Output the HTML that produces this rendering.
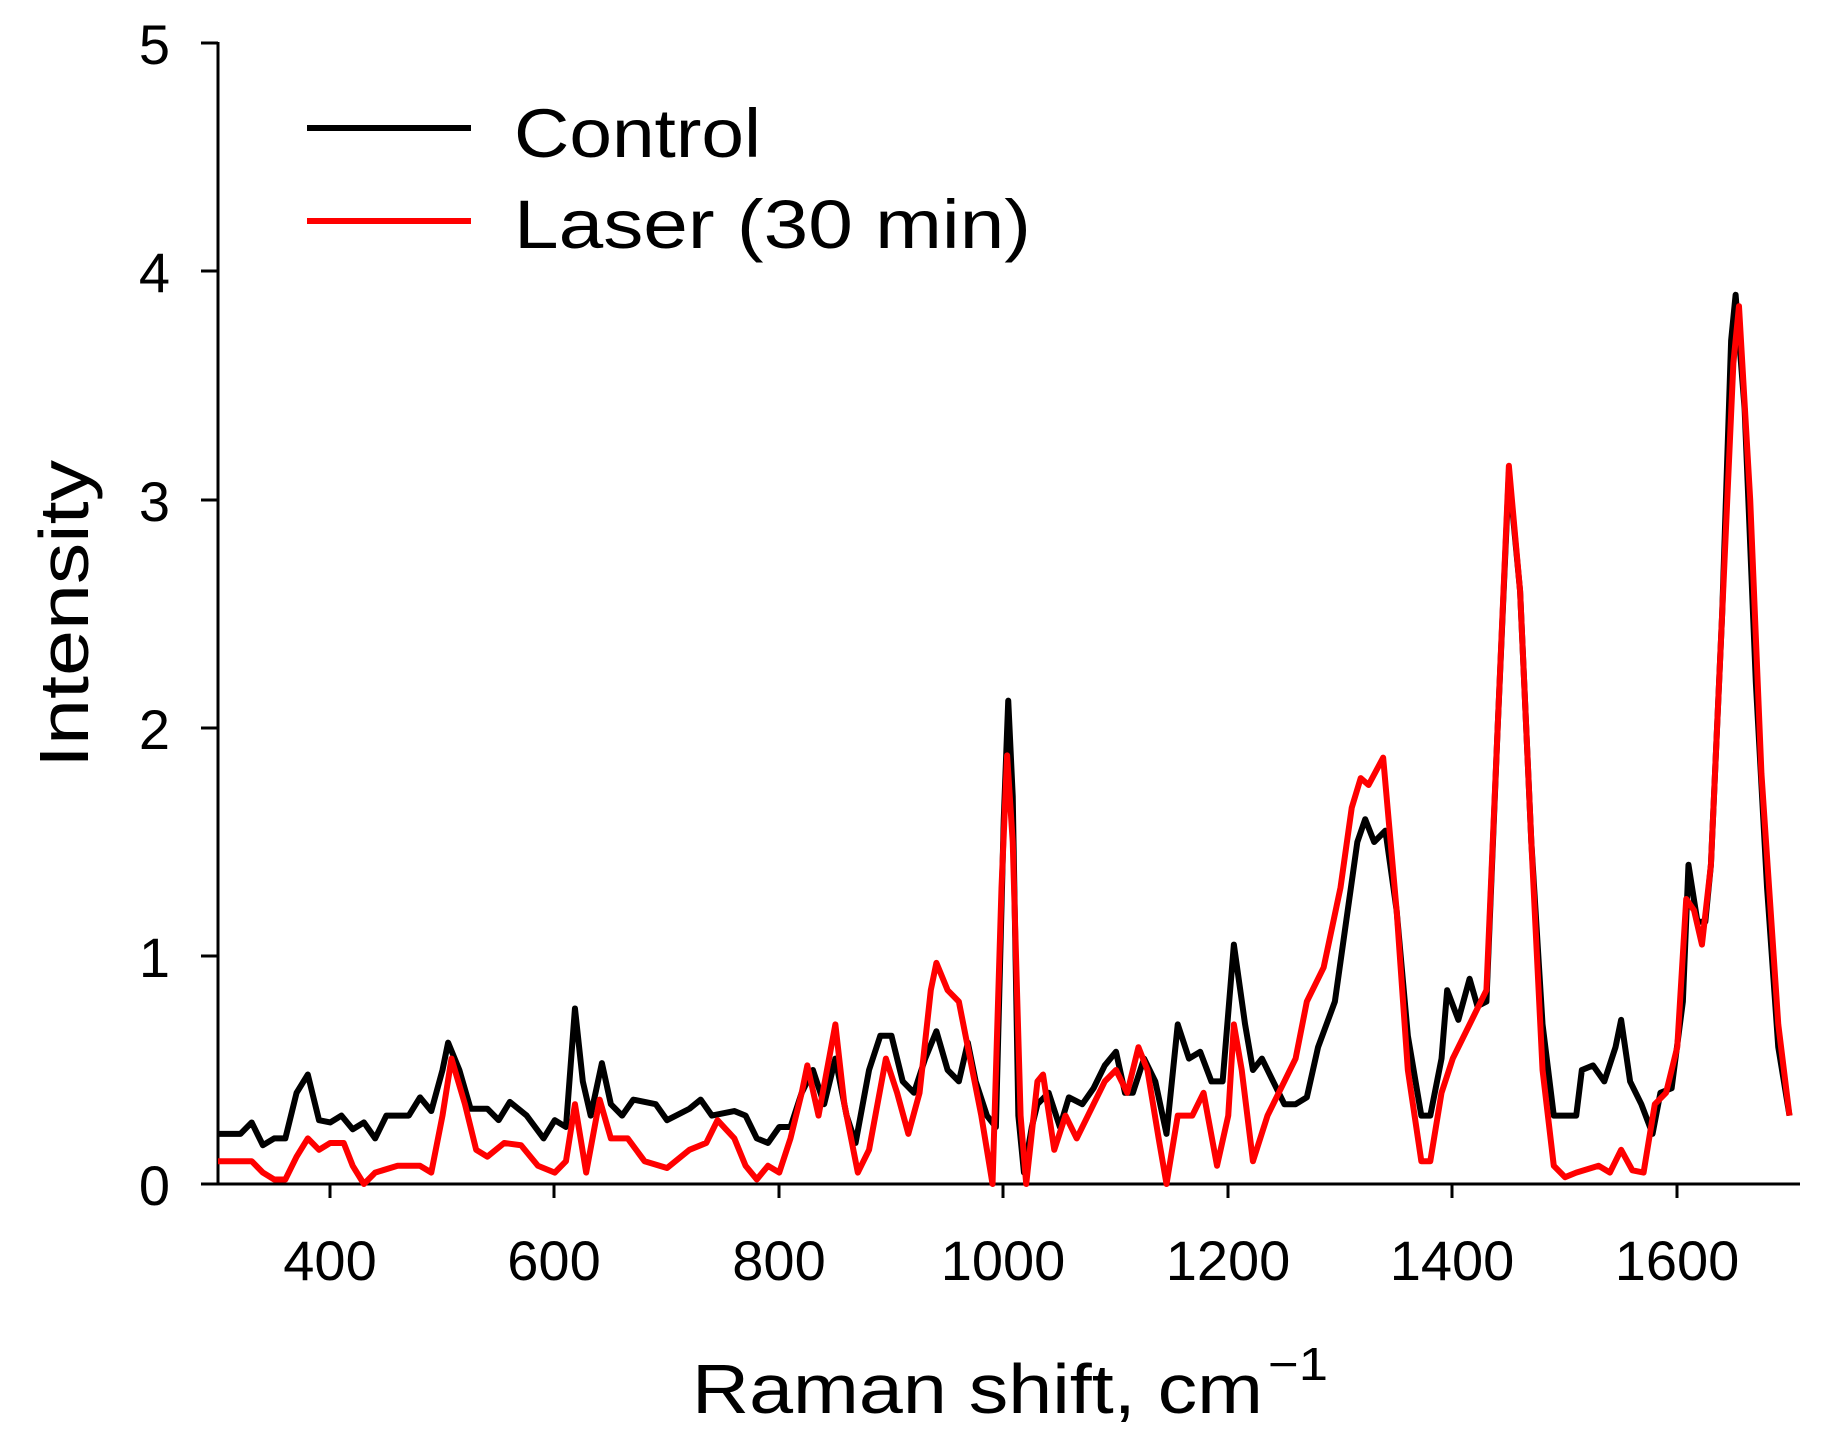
<!DOCTYPE html>
<html><head><meta charset="utf-8"><style>body{margin:0;background:#fff}svg{display:block}</style></head>
<body>
<svg width="1822" height="1455" viewBox="0 0 1822 1455" xmlns="http://www.w3.org/2000/svg" font-family="'Liberation Sans', 'DejaVu Sans', sans-serif">
<rect width="1822" height="1455" fill="#fff"/>
<g stroke="#000" stroke-width="3" fill="none">
<line x1="218" y1="42" x2="218" y2="1185"/>
<line x1="217" y1="1184" x2="1800" y2="1184"/>
<line x1="201" y1="43" x2="218" y2="43"/>
<line x1="201" y1="271" x2="218" y2="271"/>
<line x1="201" y1="500" x2="218" y2="500"/>
<line x1="201" y1="728" x2="218" y2="728"/>
<line x1="201" y1="956" x2="218" y2="956"/>
<line x1="201" y1="1184" x2="218" y2="1184"/>
<line x1="330" y1="1184" x2="330" y2="1198"/>
<line x1="554" y1="1184" x2="554" y2="1198"/>
<line x1="779" y1="1184" x2="779" y2="1198"/>
<line x1="1003" y1="1184" x2="1003" y2="1198"/>
<line x1="1228" y1="1184" x2="1228" y2="1198"/>
<line x1="1452" y1="1184" x2="1452" y2="1198"/>
<line x1="1677" y1="1184" x2="1677" y2="1198"/>
</g>
<g font-size="56" text-anchor="end" fill="#000">
<text x="170" y="64">5</text>
<text x="170" y="292">4</text>
<text x="170" y="521">3</text>
<text x="170" y="749">2</text>
<text x="170" y="977">1</text>
<text x="170" y="1205">0</text>
</g>
<g font-size="56" text-anchor="middle" fill="#000">
<text x="330" y="1280">400</text>
<text x="554" y="1280">600</text>
<text x="779" y="1280">800</text>
<text x="1003" y="1280">1000</text>
<text x="1228" y="1280">1200</text>
<text x="1452" y="1280">1400</text>
<text x="1677" y="1280">1600</text>
</g>
<text x="0" y="0" font-size="70" transform="translate(88,768) rotate(-90)" textLength="308" lengthAdjust="spacingAndGlyphs">Intensity</text>
<text x="692" y="1413" font-size="70" textLength="571" lengthAdjust="spacingAndGlyphs">Raman shift, cm</text>
<text x="1268" y="1380" font-size="46" textLength="60" lengthAdjust="spacingAndGlyphs">−1</text>
<line x1="307" y1="128" x2="471" y2="128" stroke="#000" stroke-width="6"/>
<line x1="307" y1="221" x2="471" y2="221" stroke="#f00" stroke-width="6"/>
<text x="514" y="157" font-size="69" textLength="247" lengthAdjust="spacingAndGlyphs">Control</text>
<text x="514" y="248" font-size="69" textLength="517" lengthAdjust="spacingAndGlyphs">Laser (30 min)</text>
<g transform="matrix(1.1225,0,0,-2.28,-118.75,1184)" fill="none" stroke-linejoin="round">
<polyline vector-effect="non-scaling-stroke" stroke="#000" stroke-width="6" points="300,22 320,22 330,27 340,17 350,20 360,20 370,40 380,48 390,28 400,27 410,30 420,24 430,27 440,20 450,30 470,30 480,38 490,32 500,50 505,62 515,50 525,33 540,33 550,28 560,36 575,30 590,20 600,28 610,25 618,77 625,45 632,30 642,53 650,35 660,30 670,37 690,35 700,28 720,33 730,37 740,30 760,32 770,30 780,20 790,18 800,25 810,25 820,40 830,50 840,35 850,55 860,30 868,18 880,50 890,65 900,65 910,45 920,40 930,55 940,67 950,50 960,45 968,62 975,45 985,30 993,25 1000,160 1004,212 1008,170 1013,30 1018,5 1025,25 1030,35 1040,40 1050,25 1058,38 1070,35 1080,42 1090,52 1100,58 1108,40 1115,40 1125,55 1135,45 1145,22 1155,70 1165,55 1175,58 1185,45 1195,45 1205,105 1215,70 1222,50 1230,55 1240,45 1250,35 1260,35 1270,38 1280,60 1295,80 1305,115 1315,150 1322,160 1330,150 1340,155 1350,120 1360,65 1372,30 1380,30 1390,55 1395,85 1405,72 1415,90 1422,78 1430,80 1440,200 1450,312 1460,260 1470,150 1480,70 1490,30 1500,30 1510,30 1515,50 1525,52 1535,45 1545,60 1550,72 1558,45 1568,35 1578,22 1585,40 1595,42 1605,80 1610,140 1618,115 1625,115 1630,140 1640,250 1648,370 1652,390 1660,340 1670,220 1680,130 1690,60 1700,30"/>
<polyline vector-effect="non-scaling-stroke" stroke="#f00" stroke-width="6" points="300,10 320,10 330,10 340,5 350,2 360,2 370,12 380,20 390,15 400,18 412,18 420,8 430,0 440,5 460,8 480,8 490,5 500,30 508,55 520,35 530,15 540,12 555,18 570,17 585,8 600,5 610,10 618,35 628,5 640,37 650,20 665,20 680,10 700,7 720,15 735,18 745,28 760,20 770,8 780,2 790,8 800,5 810,20 820,40 825,52 835,30 850,70 858,35 870,5 880,15 895,55 905,40 915,22 925,40 935,85 940,97 950,85 960,80 970,55 980,30 990,0 998,130 1003,188 1008,150 1015,30 1020,0 1030,45 1035,48 1045,15 1055,30 1065,20 1080,35 1090,45 1100,50 1110,40 1120,60 1128,50 1138,20 1145,0 1155,30 1168,30 1178,40 1190,8 1200,30 1205,70 1212,50 1222,10 1235,30 1250,45 1260,55 1270,80 1285,95 1300,130 1310,165 1318,178 1325,175 1338,187 1350,120 1360,50 1372,10 1380,10 1390,40 1400,55 1415,70 1430,85 1440,200 1450,315 1460,260 1470,150 1480,50 1490,8 1500,3 1510,5 1530,8 1540,5 1550,15 1560,6 1570,5 1580,35 1590,40 1600,60 1608,125 1615,120 1622,105 1630,140 1640,250 1650,360 1655,385 1665,300 1675,180 1690,70 1700,30"/>
</g>
</svg>
</body></html>
